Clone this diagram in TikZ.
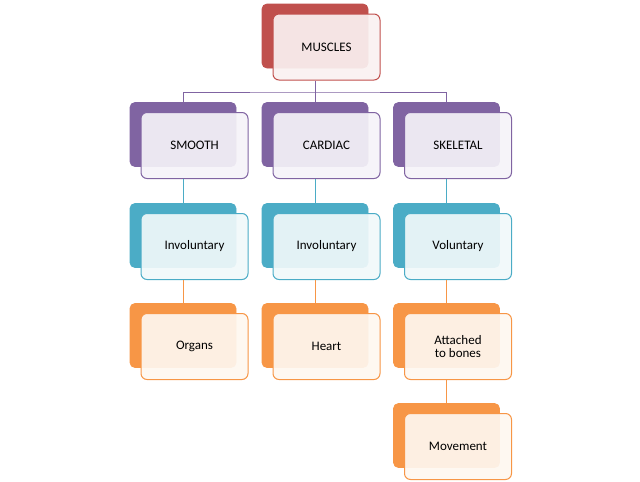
\documentclass[tikz,border=0pt]{standalone}
\usepackage{fontspec}
\setmainfont{Carlito}
\begin{document}
\begin{tikzpicture}[x=1pt,y=-1pt,
  back/.style={draw=#1,fill=#1,rounded corners=5pt,minimum width=106pt,minimum height=64pt,line width=0.8pt},
  front/.style={draw=#1,fill=#1!8!white,fill opacity=0.92,text opacity=1,rounded corners=6pt,minimum width=107pt,minimum height=66pt,line width=1pt,font=\fontsize{13}{15}\selectfont,align=center},
  conn/.style={draw=#1,line width=1pt}]
\useasboundingbox (0,0) rectangle (640,482);
\definecolor{cr}{HTML}{C0504D}\definecolor{cp}{HTML}{8064A2}
\definecolor{ct}{HTML}{4BACC6}\definecolor{co}{HTML}{F79646}
\newcommand{\boxpair}[5]{%
  \node[back=#4] (#1b) at (#2,#3) {};
  \node[front=#4] (#1) at (#2+11.5,#3+11) {#5};}
% connectors first
\coordinate (j) at (315,92);
\boxpair{m}{315}{36}{cr}{MUSCLES}
\boxpair{s}{183}{134.5}{cp}{SMOOTH}
\boxpair{c}{315}{134.5}{cp}{CARDIAC}
\boxpair{k}{446.5}{134.5}{cp}{SKELETAL}
\boxpair{si}{183}{235.5}{ct}{Involuntary}
\boxpair{ci}{315}{235.5}{ct}{Involuntary}
\boxpair{ki}{446.5}{235.5}{ct}{Voluntary}
\boxpair{so}{183}{335.5}{co}{Organs}
\boxpair{ch}{315}{335.5}{co}{Heart}
\boxpair{ka}{446.5}{335.5}{co}{Attached\\[-2pt]to bones}
\boxpair{kv}{446.5}{435.5}{co}{Movement}
\draw[conn=cp] (m.south -| j) -- (j);
\draw[conn=cp] (sb.north) |- (j) -| (kb.north);
\draw[conn=cp] (j) -- (cb.north);
\draw[conn=ct] (s.south -| sb) -- (sib.north);
\draw[conn=ct] (c.south -| cb) -- (cib.north);
\draw[conn=ct] (k.south -| kb) -- (kib.north);
\draw[conn=co] (si.south -| sib) -- (sob.north);
\draw[conn=co] (ci.south -| cib) -- (chb.north);
\draw[conn=co] (ki.south -| kib) -- (kab.north);
\draw[conn=co] (ka.south -| kab) -- (kvb.north);
\end{tikzpicture}
\end{document}
